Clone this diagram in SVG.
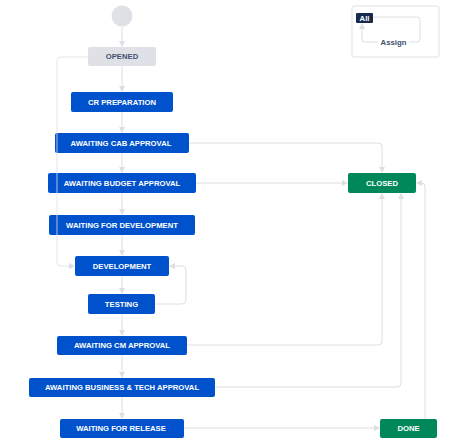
<svg xmlns="http://www.w3.org/2000/svg" width="474" height="445" viewBox="0 0 474 445">
<style>
.n{fill:#0052cc}
.g{fill:#00875a}
.t{font-family:"Liberation Sans",Arial,sans-serif;font-weight:bold;font-size:7.7px;fill:#ffffff;text-anchor:middle;dominant-baseline:central}
.c path{fill:none;stroke:#dcdee3;stroke-width:1;marker-end:url(#a)}
</style>
<defs>
<marker id="a" viewBox="0 0 6 6" refX="5" refY="3" markerWidth="6" markerHeight="6" orient="auto" markerUnits="userSpaceOnUse">
<path d="M0,0 L6,3 L0,6 Z" fill="#dcdee3"/>
</marker>
</defs>
<rect width="474" height="445" fill="#ffffff"/>
<g id="start"><circle cx="122" cy="16" r="10.5" fill="#dfe1e6"/></g>
<g id="opened"><rect x="88" y="47" width="68" height="19" rx="2" fill="#dfe1e6"/><text class="t" x="122" y="56.5" style="fill:#42526e">OPENED</text></g>
<g id="cr-preparation"><rect class="n" x="71" y="92" width="102" height="20" rx="2"/><text class="t" x="122" y="102">CR PREPARATION</text></g>
<g id="awaiting-cab-approval"><rect class="n" x="55" y="133" width="134" height="20" rx="2"/><text class="t" x="121" y="143">AWAITING CAB APPROVAL</text></g>
<g id="awaiting-budget-approval"><rect class="n" x="48" y="173" width="148" height="20" rx="2"/><text class="t" x="122" y="183">AWAITING BUDGET APPROVAL</text></g>
<g id="waiting-for-development"><rect class="n" x="49" y="215" width="146" height="20" rx="2"/><text class="t" x="122" y="225">WAITING FOR DEVELOPMENT</text></g>
<g id="development"><rect class="n" x="75" y="256" width="94" height="20" rx="2"/><text class="t" x="122" y="266">DEVELOPMENT</text></g>
<g id="testing"><rect class="n" x="88" y="294" width="67" height="20" rx="2"/><text class="t" x="121.5" y="304">TESTING</text></g>
<g id="awaiting-cm-approval"><rect class="n" x="57" y="336" width="130" height="19" rx="2"/><text class="t" x="122" y="345.5">AWAITING CM APPROVAL</text></g>
<g id="awaiting-business-tech-approval"><rect class="n" x="29" y="378" width="186" height="19" rx="2"/><text class="t" x="122" y="387.5">AWAITING BUSINESS &amp; TECH APPROVAL</text></g>
<g id="waiting-for-release"><rect class="n" x="60" y="419" width="124" height="19" rx="2"/><text class="t" x="121" y="428.5">WAITING FOR RELEASE</text></g>
<g id="closed"><rect class="g" x="348" y="173" width="68" height="20" rx="2"/><text class="t" x="382" y="183">CLOSED</text></g>
<g id="done"><rect class="g" x="380" y="419" width="57" height="19" rx="2"/><text class="t" x="408.5" y="428.5">DONE</text></g>
<g class="c" id="connectors">
<path d="M122,27 V46"/>
<path d="M122,66 V91"/>
<path d="M122,112 V132"/>
<path d="M122,153 V172"/>
<path d="M122,193 V214"/>
<path d="M122,235 V255"/>
<path d="M122,276 V293"/>
<path d="M122,314 V335"/>
<path d="M122,355 V377"/>
<path d="M122,397 V418"/>
<path d="M88,57 H61 Q57,57 57,61 V262 Q57,266 61,266 H74" style="stroke-opacity:0.8"/>
<path d="M155,304 H182 Q186,304 186,300 V270 Q186,266 182,266 H170"/>
<path d="M189,143 H378 Q382,143 382,147 V172"/>
<path d="M196,183 H347"/>
<path d="M187,345 H378 Q382,345 382,341 V194"/>
<path d="M215,387 H397 Q401,387 401,383 V194"/>
<path d="M184,428 H379"/>
<path d="M425,419 V187 Q425,183 421,183 H417"/>
</g>
<g id="legend">
<rect x="352" y="6" width="87" height="51" rx="2" fill="#ffffff" stroke="#dfe1e6" stroke-width="1"/>
<path d="M373,17 H417 Q420,17 420,20 V39 Q420,42 417,42 H409" fill="none" stroke="#dcdee3" stroke-width="1"/>
<path d="M378,42 H365 Q362,42 362,39 V24" fill="none" stroke="#dcdee3" stroke-width="1" marker-end="url(#a)"/>
<rect x="356" y="13" width="17" height="10" rx="1" fill="#172b4d"/>
<text class="t" x="364.5" y="18">All</text>
<text x="393.5" y="42" style="font-family:'Liberation Sans',Arial,sans-serif;font-weight:bold;font-size:7.8px;fill:#42526e;text-anchor:middle;dominant-baseline:central">Assign</text>
</g>
</svg>
